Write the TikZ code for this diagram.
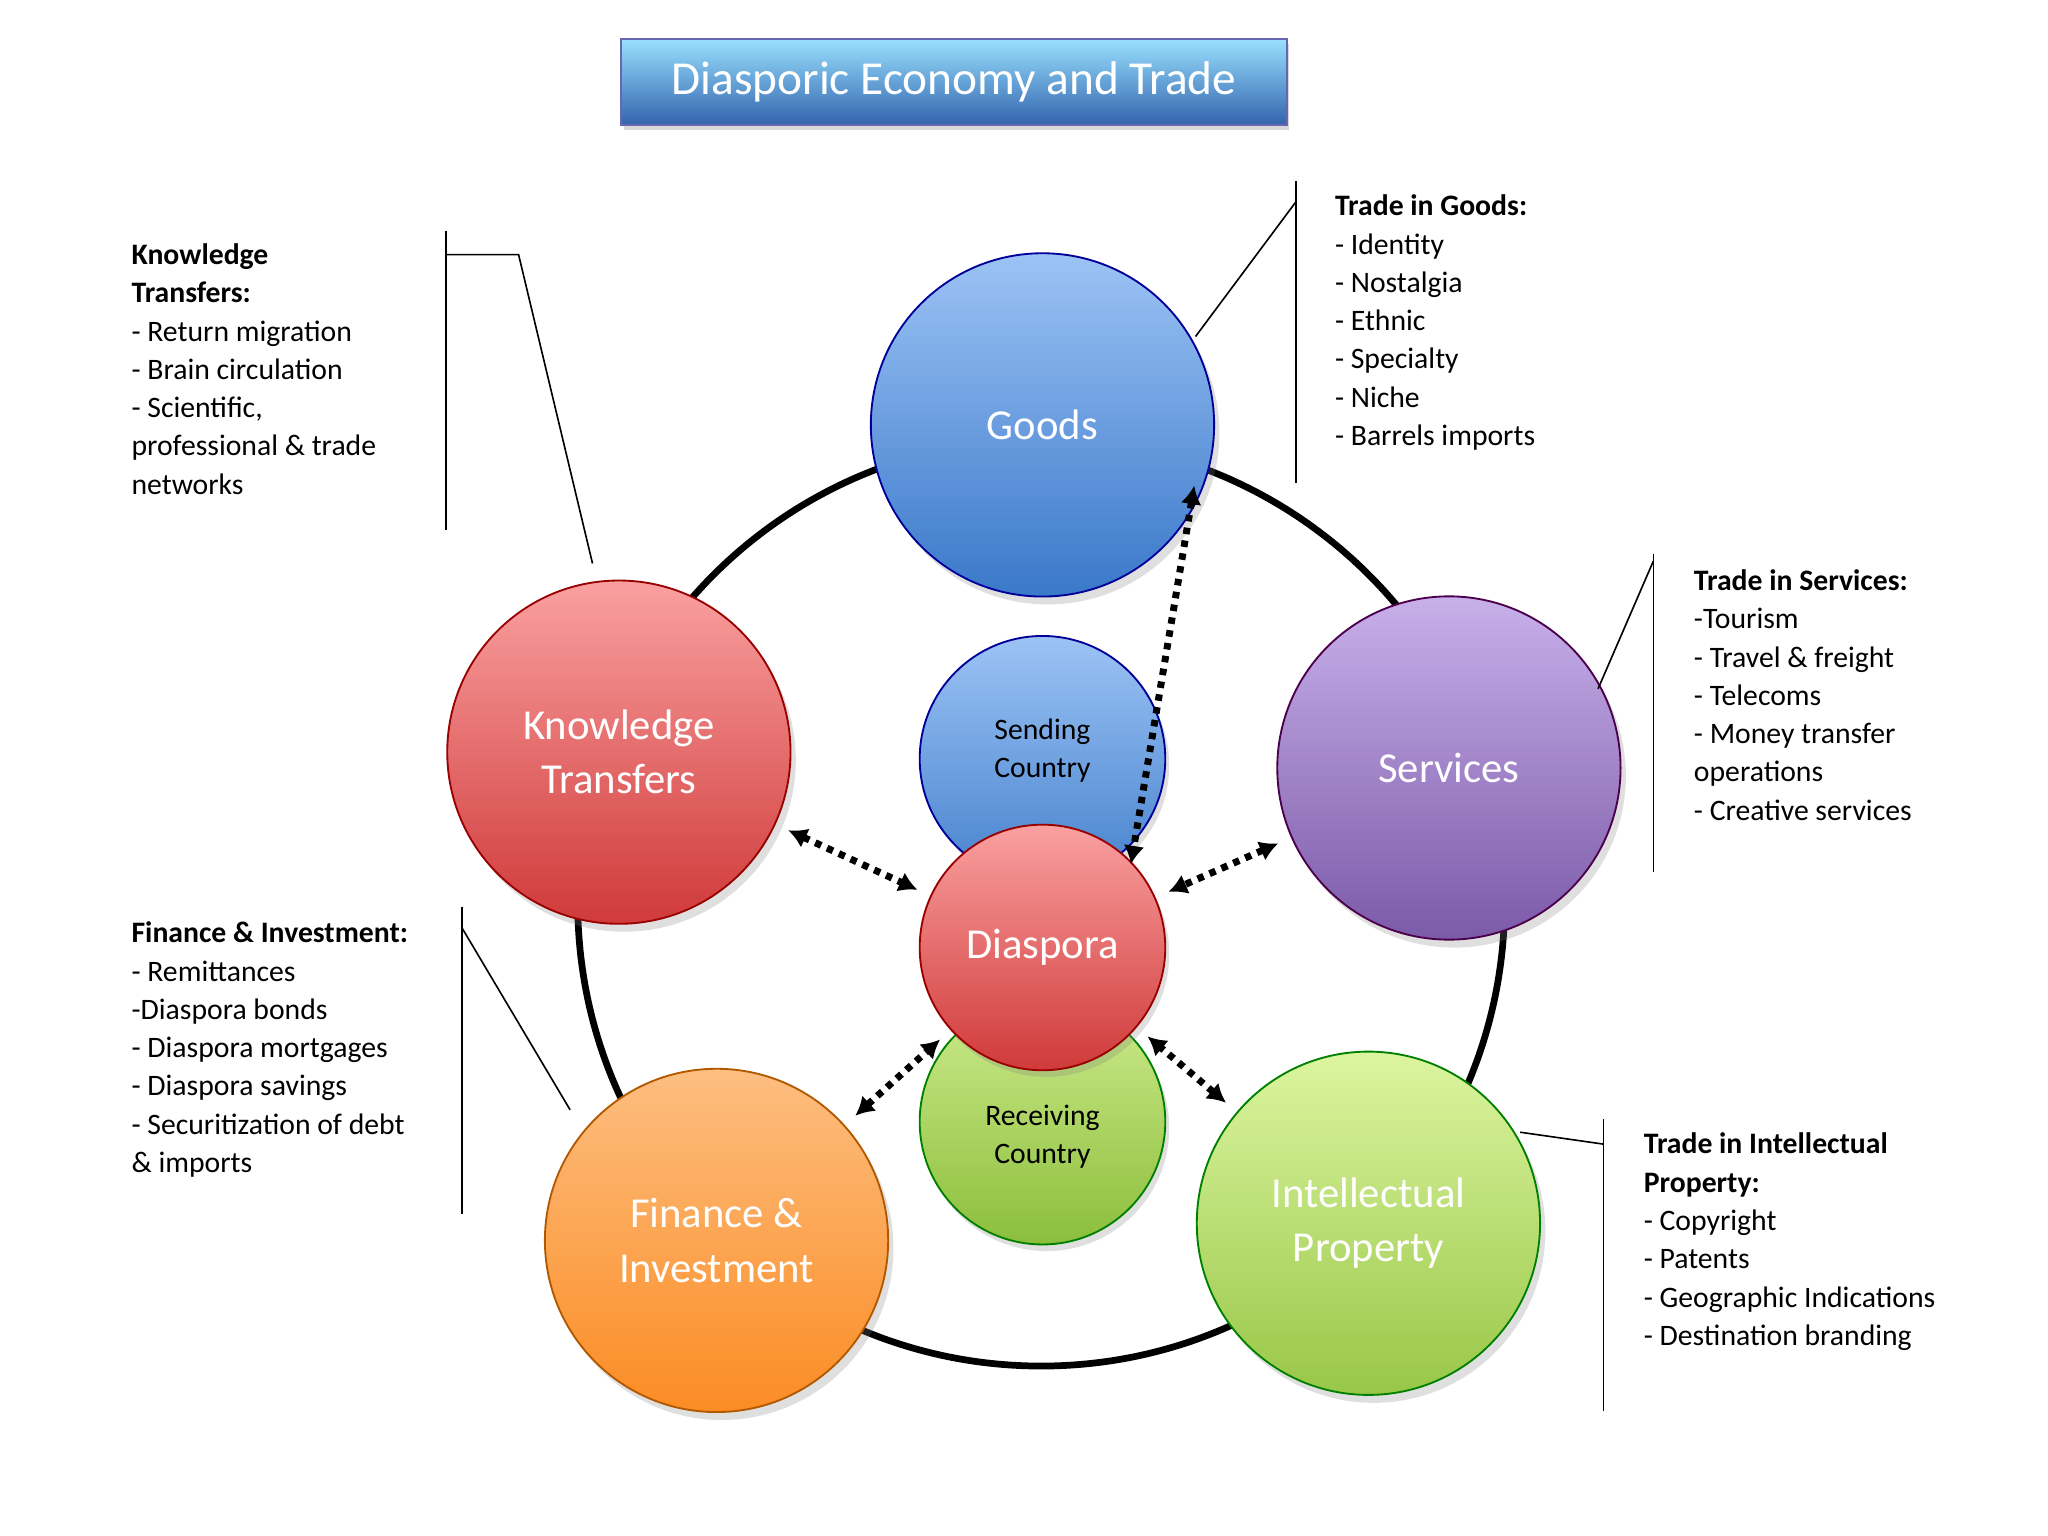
\documentclass[tikz,border=0pt]{standalone}
\usepackage{fontspec}
\setmainfont{Carlito}
\usetikzlibrary{shadows,arrows.meta}
\begin{document}
\begin{tikzpicture}[x=0.01cm,y=-0.01cm,
  big/.style={circle,minimum size=2.6cm,inner sep=0pt,text=white,align=center,
     font=\fontsize{9.2}{11.7}\selectfont,drop shadow={opacity=0.25,shadow xshift=0.04cm,shadow yshift=-0.06cm}},
  small/.style={circle,minimum size=1.86cm,inner sep=0pt,align=center,
     font=\fontsize{6.4}{8.25}\selectfont,drop shadow={opacity=0.25,shadow xshift=0.03cm,shadow yshift=-0.05cm}},
  info/.style={anchor=north west,align=left,inner sep=0pt,font=\fontsize{6.4}{8.25}\selectfont},
  call/.style={line width=0.35pt},
  dar/.style={line width=1.5pt,dash pattern=on 1.4pt off 1.4pt,{Latex[length=4pt,width=4.5pt]}-{Latex[length=4pt,width=4.5pt]}}
]
\useasboundingbox (0,0) rectangle (1552,1164);
\fill[white] (0,0) rectangle (1552,1164);
% title
\node[draw=blue!50!black!60,line width=0.4pt,top color=blue!30!cyan!40,bottom color=blue!60!cyan!60!black!80,
  minimum width=5.04cm,minimum height=0.65cm,text=white,font=\fontsize{10.2}{12}\selectfont,
  drop shadow={opacity=0.3,shadow xshift=0.02cm,shadow yshift=-0.04cm}] (title) at (723,62) {Diasporic Economy and Trade};
% ring
\node[circle,draw,line width=1.45pt,minimum size=7.02cm,inner sep=0pt] (ring) at (789,684) {};
% circles
\node[big,draw=blue!60!black,top color={rgb,255:red,156;green,195;blue,245},bottom color={rgb,255:red,58;green,120;blue,201}] (goods) at (790,322) {Goods};
\node[big,draw=red!60!black,top color={rgb,255:red,250;green,160;blue,160},bottom color={rgb,255:red,208;green,58;blue,58}] (kt) at (469,570) {Knowledge\\Transfers};
\node[big,draw=violet!60!black,top color={rgb,255:red,200;green,176;blue,234},bottom color={rgb,255:red,123;green,90;blue,168}] (serv) at (1098,582) {Services};
\node[big,draw=orange!70!black,top color={rgb,255:red,253;green,190;blue,128},bottom color={rgb,255:red,251;green,140;blue,36}] (fin) at (543,940) {Finance \&\\Investment};
\node[big,draw=green!50!black,top color={rgb,255:red,220;green,245;blue,160},bottom color={rgb,255:red,152;green,199;blue,72}] (ip) at (1037,927) {Intellectual\\Property};
\node[small,draw=blue!60!black,top color={rgb,255:red,156;green,195;blue,245},bottom color={rgb,255:red,70;green,130;blue,205},text depth=0pt] (send) at (790,575) {\raisebox{2.6em}{}\\[-5.2em]Sending\\Country};
\node[small,draw=green!50!black,top color={rgb,255:red,205;green,235;blue,140},bottom color={rgb,255:red,140;green,190;blue,60}] (recv) at (790,850) {\\[0.4em]Receiving\\Country};
\node[small,draw=red!60!black,top color={rgb,255:red,250;green,160;blue,160},bottom color={rgb,255:red,208;green,58;blue,58},text=white,font=\fontsize{9.2}{11}\selectfont] (dia) at (790,718) {Diaspora};
% arrows
\coordinate (g1) at (905,368); \coordinate (g2) at (857,655);
\draw[dar] (g1) -- (g2);
\draw[dar,shorten <=3pt,shorten >=3pt] (kt) -- (dia);
\draw[dar,shorten <=3pt,shorten >=3pt] (serv) -- (dia);
\draw[dar,shorten <=3pt,shorten >=3pt] (fin) -- (dia);
\draw[dar,shorten <=3pt,shorten >=3pt] (ip) -- (dia);
% callouts
\coordinate (k1) at (338,175); \coordinate (k2) at (338,402); \coordinate (k3) at (338,193); \coordinate (k4) at (393,193); \coordinate (k5) at (449,427);
\draw[call] (k1) -- (k2); \draw[call] (k3) -- (k4) -- (k5);
\coordinate (a1) at (982,137); \coordinate (a2) at (982,366); \coordinate (a3) at (982,153); \coordinate (a4) at (906,255);
\draw[call] (a1) -- (a2); \draw[call] (a3) -- (a4);
\coordinate (s1) at (1253,420); \coordinate (s2) at (1253,661); \coordinate (s3) at (1253,425); \coordinate (s4) at (1211,522);
\draw[call] (s1) -- (s2); \draw[call] (s3) -- (s4);
\coordinate (f1) at (350,687); \coordinate (f2) at (350,920); \coordinate (f3) at (350,703); \coordinate (f4) at (432,841);
\draw[call] (f1) -- (f2); \draw[call] (f3) -- (f4);
\coordinate (i1) at (1215,848); \coordinate (i2) at (1215,1069); \coordinate (i3) at (1215,867); \coordinate (i4) at (1152,858);
\draw[call] (i1) -- (i2); \draw[call] (i3) -- (i4);
% texts
\node[info] (tk) at (99,184) {\textbf{Knowledge}\\\textbf{Transfers:}\\- Return migration\\- Brain circulation\\- Scientific,\\professional \& trade\\networks};
\node[info] (tg) at (1011,147) {\textbf{Trade in Goods:}\\- Identity\\- Nostalgia\\- Ethnic\\- Specialty\\- Niche\\- Barrels imports};
\node[info] (ts) at (1283,431) {\textbf{Trade in Services:}\\-Tourism\\- Travel \& freight\\- Telecoms\\- Money transfer\\operations\\- Creative services};
\node[info] (tf) at (99,698) {\textbf{Finance \& Investment:}\\- Remittances\\-Diaspora bonds\\- Diaspora mortgages\\- Diaspora savings\\- Securitization of debt\\\& imports};
\node[info] (ti) at (1245,858) {\textbf{Trade in Intellectual}\\\textbf{Property:}\\- Copyright\\- Patents\\- Geographic Indications\\- Destination branding};
\end{tikzpicture}
\end{document}
